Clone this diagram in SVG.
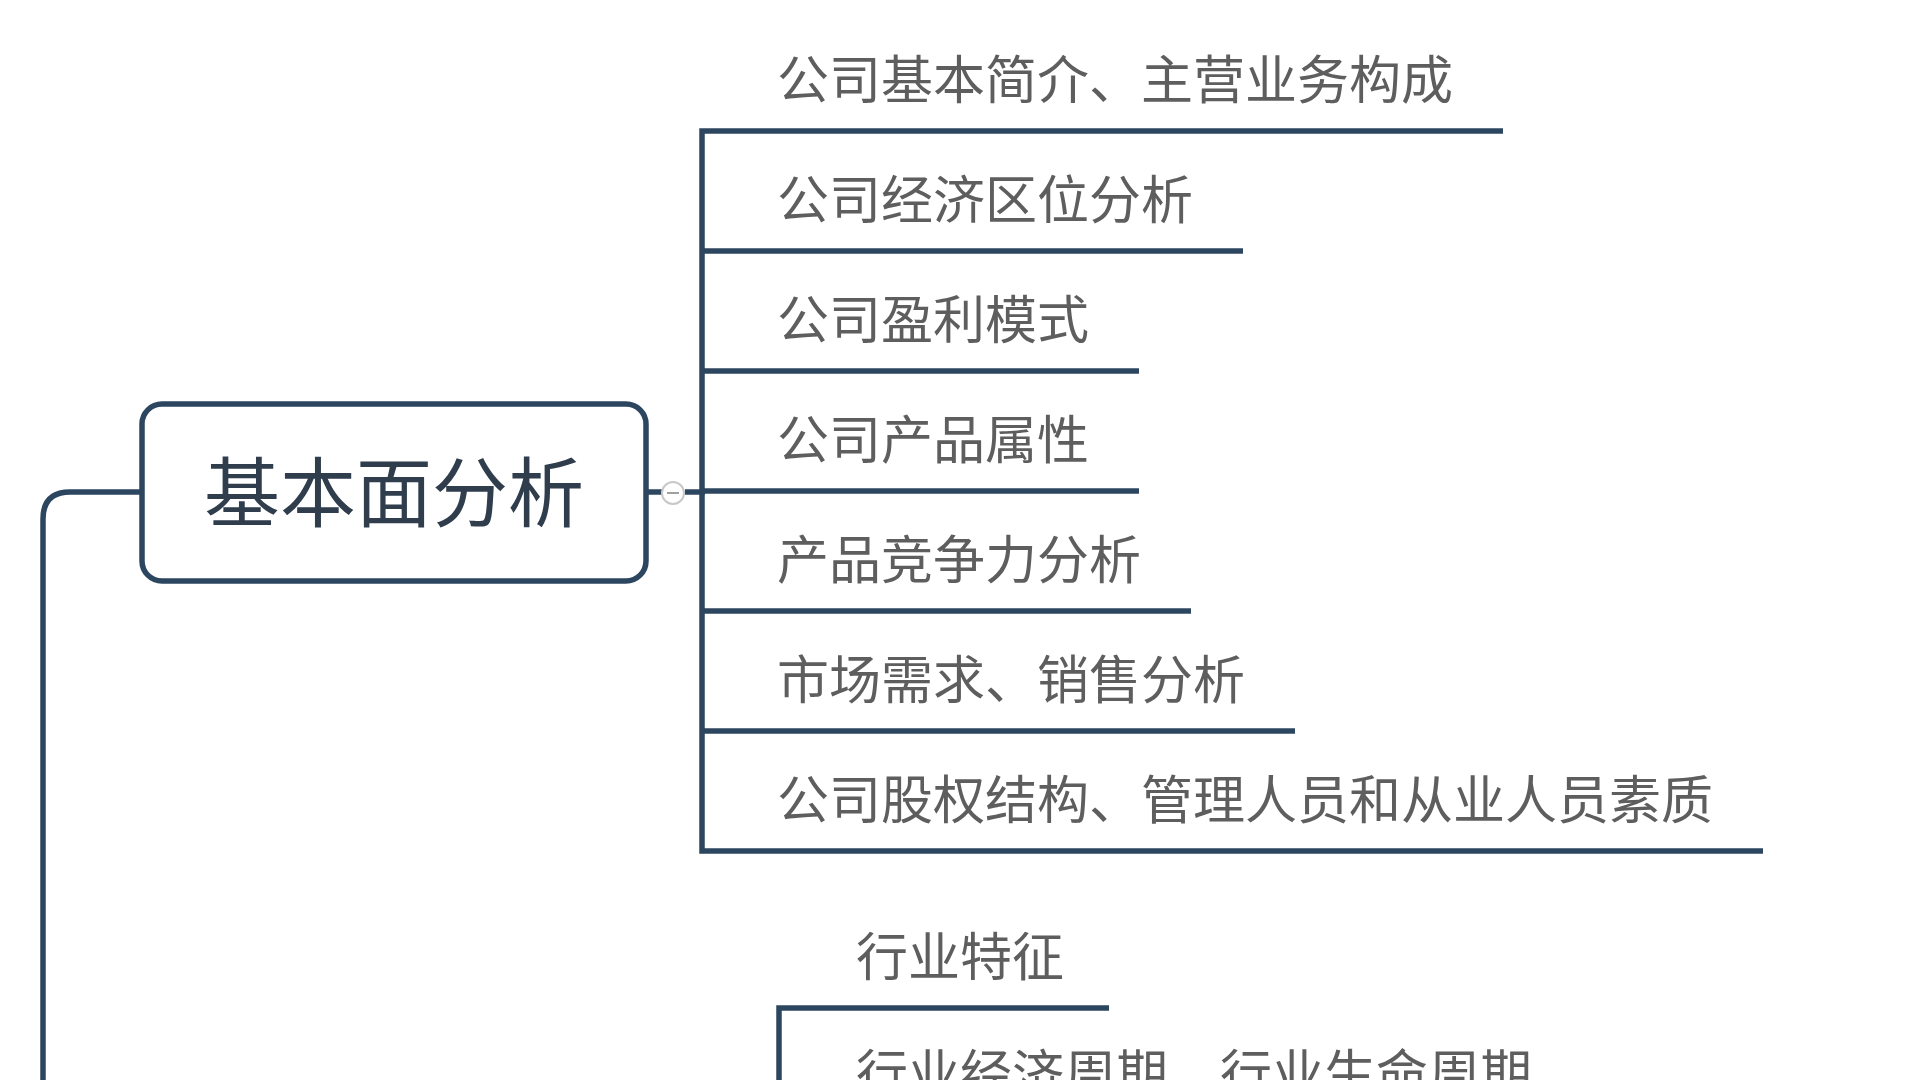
<svg xmlns="http://www.w3.org/2000/svg" width="1920" height="1080" viewBox="0 0 1920 1080">
  <style>
    .ln { fill: none; stroke: #2d4660; stroke-width: 5.5; stroke-linecap: butt; }
    .lbl { font-family: "Noto Sans CJK SC", "Noto Sans", sans-serif; font-size: 52px; fill: #5e5e5e; }
    .main { font-family: "Noto Sans CJK SC", "Noto Sans", sans-serif; font-size: 76px; fill: #2f3d4c; }
  </style>
  <rect width="1920" height="1080" fill="#ffffff"/>
  <g id="connectors">
    <path class="ln" d="M 142 492 L 70 492 Q 43 492 43 519 L 43 1080"/>
    <path class="ln" d="M 646 492 L 662 492" stroke-width="3.5"/>
    <path class="ln" d="M 685 492 L 705 492"/>
    <path class="ln" d="M 1503 131 L 702 131 L 702 851 L 1763 851"/>
    <path class="ln" d="M 702 251 L 1243 251"/>
    <path class="ln" d="M 702 371 L 1139 371"/>
    <path class="ln" d="M 702 491 L 1139 491"/>
    <path class="ln" d="M 702 611 L 1191 611"/>
    <path class="ln" d="M 702 731 L 1295 731"/>
    <path class="ln" d="M 1109 1008 L 779 1008 L 779 1080"/>
  </g>
  <g id="node-main">
    <rect x="142" y="404" width="504" height="177" rx="20" fill="#ffffff" stroke="#2d4660" stroke-width="5.5"/>
    <text class="main" x="394" y="521" text-anchor="middle">基本面分析</text>
  </g>
  <g id="collapse-toggle">
    <circle cx="673" cy="493" r="11" fill="#ffffff" stroke="#c8c8c8" stroke-width="2"/>
    <line x1="667" y1="493" x2="679" y2="493" stroke="#a0a0a0" stroke-width="2"/>
  </g>
  <g id="node-1"><text class="lbl" x="777" y="99">公司基本简介、主营业务构成</text></g>
  <g id="node-2"><text class="lbl" x="777" y="219">公司经济区位分析</text></g>
  <g id="node-3"><text class="lbl" x="777" y="339">公司盈利模式</text></g>
  <g id="node-4"><text class="lbl" x="777" y="459">公司产品属性</text></g>
  <g id="node-5"><text class="lbl" x="777" y="579">产品竞争力分析</text></g>
  <g id="node-6"><text class="lbl" x="777" y="699">市场需求、销售分析</text></g>
  <g id="node-7"><text class="lbl" x="777" y="819">公司股权结构、管理人员和从业人员素质</text></g>
  <g id="node-8"><text class="lbl" x="856" y="976">行业特征</text></g>
  <g id="node-9"><text class="lbl" x="856" y="1093">行业经济周期、行业生命周期</text></g>
</svg>
